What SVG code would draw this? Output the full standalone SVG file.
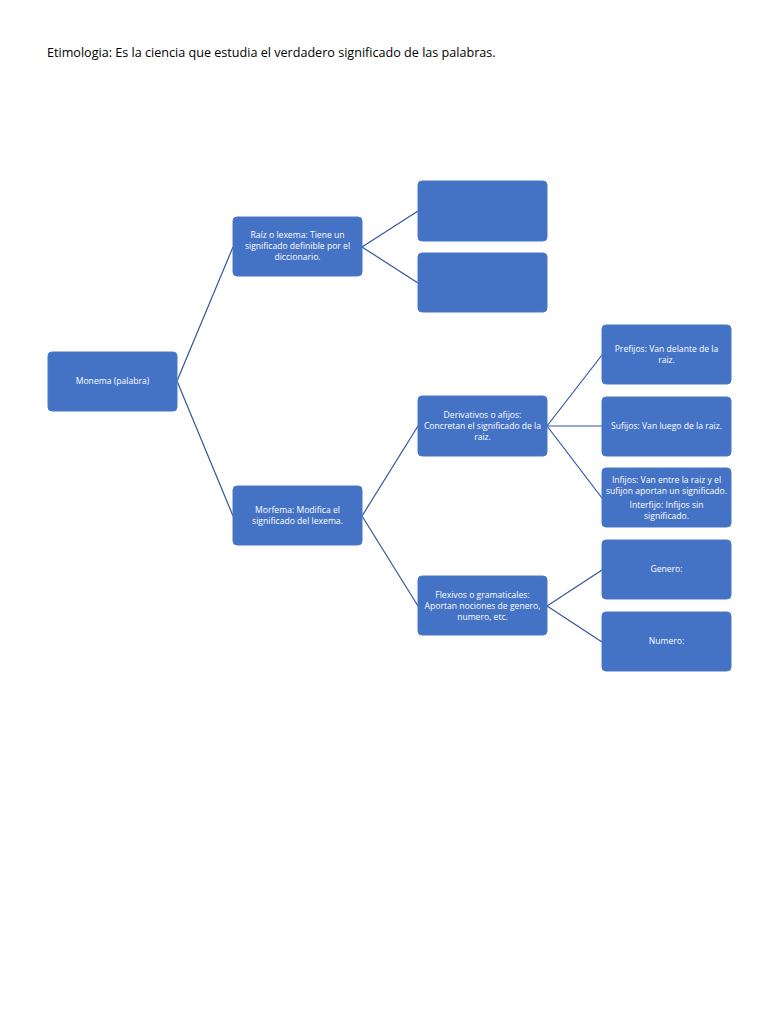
<svg xmlns="http://www.w3.org/2000/svg" width="768" height="1024" viewBox="0 0 768 1024">
<style>
.b{fill:#4472c4;stroke:#4a78c8;stroke-width:1}
.t{font-family:"Open Sans","Liberation Sans",sans-serif;font-size:8.6px;fill:#fff;text-anchor:middle}
.c line{stroke:#2f55a4;stroke-width:1.2}
</style>
<rect width="768" height="1024" fill="#fff"/>
<text x="47" y="57" font-family="Open Sans, Liberation Sans, sans-serif" font-size="12.6" fill="#000">Etimologia: Es la ciencia que estudia el verdadero significado de las palabras.</text>
<g class="c">
<line x1="177" y1="381" x2="233" y2="247"/>
<line x1="177" y1="381" x2="233" y2="516"/>
<line x1="362" y1="247" x2="418" y2="211"/>
<line x1="362" y1="247" x2="418" y2="283"/>
<line x1="362" y1="516" x2="418" y2="426"/>
<line x1="362" y1="516" x2="418" y2="606"/>
<line x1="547" y1="426" x2="602" y2="355"/>
<line x1="547" y1="426" x2="602" y2="426"/>
<line x1="547" y1="426" x2="602" y2="498"/>
<line x1="547" y1="606" x2="602" y2="570"/>
<line x1="547" y1="606" x2="602" y2="642"/>
</g>
<g id="monema"><rect class="b" x="48" y="352" width="129" height="59" rx="4"/><text class="t" x="112.5" y="384">Monema (palabra)</text></g>
<g id="raiz"><rect class="b" x="233" y="217" width="129" height="59" rx="4"/><text class="t" x="297.5" y="238">Raíz o lexema: Tiene un</text><text class="t" x="297.5" y="249">significado definible por el</text><text class="t" x="297.5" y="260">diccionario.</text></g>
<g id="morfema"><rect class="b" x="233" y="486" width="129" height="59" rx="4"/><text class="t" x="297.5" y="513">Morfema: Modifica el</text><text class="t" x="297.5" y="524">significado del lexema.</text></g>
<g id="vacio1"><rect class="b" x="418" y="181" width="129" height="60" rx="4"/></g>
<g id="vacio2"><rect class="b" x="418" y="253" width="129" height="59" rx="4"/></g>
<g id="derivativos"><rect class="b" x="418" y="396" width="129" height="60" rx="4"/><text class="t" x="482.5" y="418">Derivativos o afijos:</text><text class="t" x="482.5" y="429">Concretan el significado de la</text><text class="t" x="482.5" y="440">raiz.</text></g>
<g id="flexivos"><rect class="b" x="418" y="576" width="129" height="59" rx="4"/><text class="t" x="482.5" y="598">Flexivos o gramaticales:</text><text class="t" x="482.5" y="609">Aportan nociones de genero,</text><text class="t" x="482.5" y="620">numero, etc.</text></g>
<g id="prefijos"><rect class="b" x="602" y="325" width="129" height="59" rx="4"/><text class="t" x="666.5" y="352">Prefijos: Van delante de la</text><text class="t" x="666.5" y="363">raiz.</text></g>
<g id="sufijos"><rect class="b" x="602" y="397" width="129" height="59" rx="4"/><text class="t" x="666.5" y="429">Sufijos: Van luego de la raiz.</text></g>
<g id="infijos"><rect class="b" x="602" y="468" width="129" height="59" rx="4"/><text class="t" x="666.5" y="483">Infijos: Van entre la raiz y el</text><text class="t" x="666.5" y="494">sufijon aportan un significado.</text><text class="t" x="666.5" y="508">Interfijo: Infijos sin</text><text class="t" x="666.5" y="519">significado.</text></g>
<g id="genero"><rect class="b" x="602" y="540" width="129" height="59" rx="4"/><text class="t" x="666.5" y="572">Genero:</text></g>
<g id="numero"><rect class="b" x="602" y="612" width="129" height="59" rx="4"/><text class="t" x="666.5" y="644">Numero:</text></g>
</svg>
